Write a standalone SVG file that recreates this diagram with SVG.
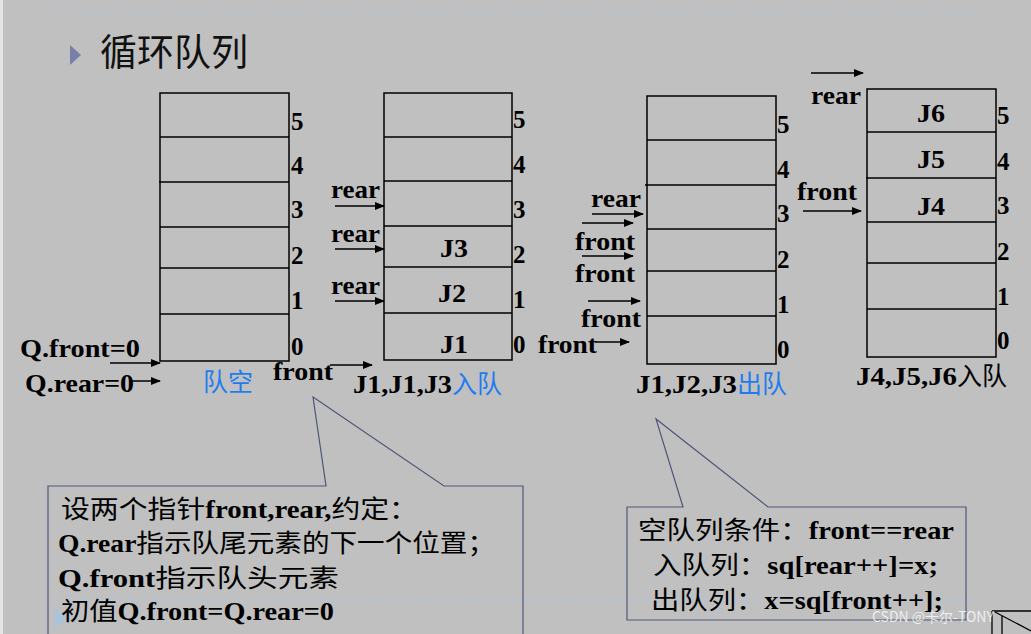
<svg xmlns="http://www.w3.org/2000/svg" width="1031" height="634" viewBox="0 0 1031 634">
<defs>
<marker id="ah" markerWidth="10" markerHeight="8" refX="9" refY="4" orient="auto" markerUnits="userSpaceOnUse">
<path d="M0,0 L10,4 L0,8 Z" fill="#000"/>
</marker>
<style>
.bg{fill:#c0c0c0}
.box{fill:none;stroke:#000;stroke-width:1.5}
.row{stroke:#000;stroke-width:1.3}
.t{font-family:"Liberation Serif","Noto Sans CJK SC",serif;font-weight:bold;font-size:25px;fill:#000}
.n{font-family:"Liberation Serif",serif;font-weight:bold;font-size:25px;fill:#000}
.blue{fill:#1e7cf0;font-family:"Noto Sans CJK SC",sans-serif;font-weight:normal}
.cjk{font-family:"Noto Sans CJK SC",sans-serif;font-weight:normal}
.arr{stroke:#000;stroke-width:1.5;fill:none;marker-end:url(#ah)}
.call{fill:none;stroke:#4e5678;stroke-width:1.2}
.dash{stroke:#a9c6e6;stroke-width:1.2;stroke-dasharray:7 5}
</style>
</defs>
<rect class="bg" x="0" y="0" width="1031" height="634"/>
<rect x="0" y="0" width="3" height="634" fill="#e4e4e4"/>
<line class="dash" x1="56" y1="12" x2="985" y2="12"/>
<line class="dash" x1="55" y1="599" x2="985" y2="599"/>

<g id="title">
<polygon points="70,45 81,55 70,65" fill="#7880a8"/>
<text x="100" y="66" font-family="'Noto Sans CJK SC',sans-serif" font-size="37" fill="#111" font-weight="400">循环队列</text>
</g>

<g id="queue-empty">
<rect class="box" x="160" y="93" width="129" height="268"/>
<line class="row" x1="160" y1="137" x2="289" y2="137"/>
<line class="row" x1="159" y1="182" x2="289" y2="182"/>
<line class="row" x1="160" y1="227" x2="289" y2="227"/>
<line class="row" x1="160" y1="268" x2="289" y2="268"/>
<line class="row" x1="160" y1="314" x2="289" y2="314"/>
<text class="n" x="291" y="130">5</text>
<text class="n" x="291" y="174">4</text>
<text class="n" x="291" y="218">3</text>
<text class="n" x="291" y="264">2</text>
<text class="n" x="291" y="309">1</text>
<text class="n" x="291" y="355">0</text>
<text class="t" x="20" y="357" textLength="120" lengthAdjust="spacingAndGlyphs">Q.front=0</text>
<text class="t" x="25" y="392" textLength="109" lengthAdjust="spacingAndGlyphs">Q.rear=0</text>
<text class="t blue" x="203" y="391" font-size="25">队空</text>
</g>

<g id="queue-enqueue">
<rect class="box" x="384" y="93" width="128" height="267"/>
<line class="row" x1="384" y1="137" x2="512" y2="137"/>
<line class="row" x1="384" y1="181" x2="512" y2="181"/>
<line class="row" x1="384" y1="226" x2="512" y2="226"/>
<line class="row" x1="384" y1="267" x2="512" y2="267"/>
<line class="row" x1="384" y1="313" x2="512" y2="313"/>
<text class="n" x="513" y="128">5</text>
<text class="n" x="513" y="173">4</text>
<text class="n" x="513" y="218">3</text>
<text class="n" x="513" y="263">2</text>
<text class="n" x="513" y="308">1</text>
<text class="n" x="513" y="353">0</text>
<text class="t" x="454" y="257" text-anchor="middle" textLength="28" lengthAdjust="spacingAndGlyphs">J3</text>
<text class="t" x="452" y="302" text-anchor="middle" textLength="28" lengthAdjust="spacingAndGlyphs">J2</text>
<text class="t" x="454" y="353" text-anchor="middle" textLength="28" lengthAdjust="spacingAndGlyphs">J1</text>
<text class="t" x="331" y="198" textLength="49" lengthAdjust="spacingAndGlyphs">rear</text>
<text class="t" x="331" y="242" textLength="49" lengthAdjust="spacingAndGlyphs">rear</text>
<text class="t" x="331" y="294" textLength="49" lengthAdjust="spacingAndGlyphs">rear</text>
<text class="t" x="273" y="380" textLength="60" lengthAdjust="spacingAndGlyphs">front</text>
<text class="t" x="353" y="393"><tspan textLength="99" lengthAdjust="spacingAndGlyphs">J1,J1,J3</tspan><tspan class="blue" font-size="25">入队</tspan></text>
</g>

<g id="queue-dequeue">
<rect class="box" x="647" y="96" width="129" height="268"/>
<line class="row" x1="647" y1="140" x2="776" y2="140"/>
<line class="row" x1="645" y1="185" x2="776" y2="185"/>
<line class="row" x1="647" y1="229" x2="776" y2="229"/>
<line class="row" x1="647" y1="271" x2="776" y2="271"/>
<line class="row" x1="647" y1="316" x2="776" y2="316"/>
<text class="n" x="777" y="133">5</text>
<text class="n" x="777" y="178">4</text>
<text class="n" x="777" y="222">3</text>
<text class="n" x="777" y="268">2</text>
<text class="n" x="777" y="313">1</text>
<text class="n" x="777" y="358">0</text>
<text class="t" x="591" y="207" textLength="50" lengthAdjust="spacingAndGlyphs">rear</text>
<text class="t" x="575" y="250" textLength="60" lengthAdjust="spacingAndGlyphs">front</text>
<text class="t" x="575" y="282" textLength="60" lengthAdjust="spacingAndGlyphs">front</text>
<text class="t" x="581" y="327" textLength="60" lengthAdjust="spacingAndGlyphs">front</text>
<text class="t" x="538" y="353" textLength="59" lengthAdjust="spacingAndGlyphs">front</text>
<text class="t" x="636" y="393"><tspan textLength="101" lengthAdjust="spacingAndGlyphs">J1,J2,J3</tspan><tspan class="blue" font-size="25">出队</tspan></text>
</g>

<g id="queue-full">
<rect class="box" x="867" y="89" width="129" height="268"/>
<line class="row" x1="867" y1="132" x2="996" y2="132"/>
<line class="row" x1="866" y1="178" x2="996" y2="178"/>
<line class="row" x1="867" y1="222" x2="996" y2="222"/>
<line class="row" x1="867" y1="263" x2="996" y2="263"/>
<line class="row" x1="867" y1="309" x2="996" y2="309"/>
<text class="n" x="997" y="124">5</text>
<text class="n" x="997" y="170">4</text>
<text class="n" x="997" y="214">3</text>
<text class="n" x="997" y="260">2</text>
<text class="n" x="997" y="305">1</text>
<text class="n" x="997" y="349">0</text>
<text class="t" x="931" y="122" text-anchor="middle" textLength="28" lengthAdjust="spacingAndGlyphs">J6</text>
<text class="t" x="931" y="168" text-anchor="middle" textLength="28" lengthAdjust="spacingAndGlyphs">J5</text>
<text class="t" x="931" y="215" text-anchor="middle" textLength="28" lengthAdjust="spacingAndGlyphs">J4</text>
<text class="t" x="811" y="104" textLength="50" lengthAdjust="spacingAndGlyphs">rear</text>
<text class="t" x="797" y="200" textLength="60" lengthAdjust="spacingAndGlyphs">front</text>
<text class="t" x="856" y="385"><tspan textLength="101" lengthAdjust="spacingAndGlyphs">J4,J5,J6</tspan><tspan class="cjk" font-size="25">入队</tspan></text>
</g>

<g id="connectors">
<line class="arr" x1="110" y1="363" x2="160" y2="363"/>
<line class="arr" x1="130" y1="381" x2="160" y2="381"/>
<line class="arr" x1="335" y1="206" x2="384" y2="206"/>
<line class="arr" x1="335" y1="249" x2="384" y2="249"/>
<line class="arr" x1="335" y1="301" x2="384" y2="301"/>
<line class="arr" x1="330" y1="365" x2="372" y2="365"/>
<line class="arr" x1="592" y1="214" x2="643" y2="214"/>
<line class="arr" x1="582" y1="223" x2="633" y2="223"/>
<line class="arr" x1="582" y1="256" x2="633" y2="256"/>
<line class="arr" x1="588" y1="301" x2="640" y2="301"/>
<line class="arr" x1="595" y1="342" x2="629" y2="342"/>
<line class="arr" x1="811" y1="73" x2="863" y2="73"/>
<line class="arr" x1="803" y1="211" x2="861" y2="211"/>
</g>

<g id="callout-left">
<path class="call" d="M48,486 L326,486 L313,397 L444,486 L523,486 L523,640 L48,640 Z"/>
<polygon points="55,608 67,618 55,628" fill="#a9c3dc"/>
<text class="t" x="61" y="518" textLength="357" lengthAdjust="spacingAndGlyphs"><tspan class="cjk">设两个指针</tspan>front,rear,<tspan class="cjk">约定：</tspan></text>
<text class="t" x="58" y="552" textLength="437" lengthAdjust="spacingAndGlyphs">Q.rear<tspan class="cjk">指示队尾元素的下一个位置；</tspan></text>
<text class="t" x="58" y="587" textLength="281" lengthAdjust="spacingAndGlyphs">Q.front<tspan class="cjk">指示队头元素</tspan></text>
<text class="t" x="61" y="620" textLength="273" lengthAdjust="spacingAndGlyphs"><tspan class="cjk">初值</tspan>Q.front=Q.rear=0</text>
</g>

<g id="callout-right">
<path class="call" d="M627,507 L683,507 L656,419 L768,507 L966,507 L966,620 L627,620 Z"/>
<text class="t" x="638" y="539" textLength="316" lengthAdjust="spacingAndGlyphs"><tspan class="cjk">空队列条件：</tspan>front==rear</text>
<text class="t" x="653" y="574" textLength="285" lengthAdjust="spacingAndGlyphs"><tspan class="cjk">入队列：</tspan>sq[rear++]=x;</text>
<text class="t" x="651" y="609" textLength="292" lengthAdjust="spacingAndGlyphs"><tspan class="cjk">出队列：</tspan>x=sq[front++];</text>
</g>

<g id="corner-shape" stroke="#000" stroke-width="1.3" fill="none">
<line x1="992" y1="611" x2="1031" y2="611"/>
<line x1="992" y1="611" x2="992" y2="634"/>
<line x1="1002" y1="616" x2="1002" y2="634"/>
<line x1="995" y1="612" x2="1031" y2="631"/>
</g>

<text x="872" y="622" font-family="'Noto Sans CJK SC','Liberation Sans',sans-serif" font-size="14" fill="#ffffff" fill-opacity="0.75">CSDN @卡尔-TONY</text>
</svg>
